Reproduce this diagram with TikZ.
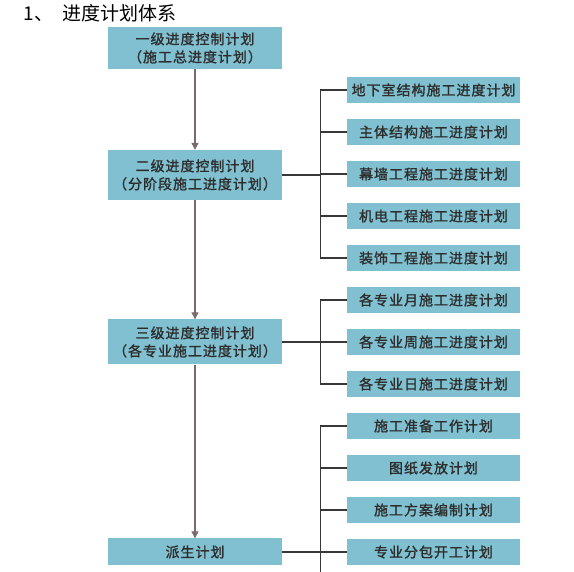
\documentclass[tikz,border=0pt]{standalone}
\usepackage{fontspec}
\newfontfamily\cjk{Noto Sans CJK SC}
\newfontfamily\cjkbox{Noto Sans CJK SC}[FakeBold=1.3, LetterSpace=7]
\usetikzlibrary{arrows.meta}
\definecolor{boxblue}{RGB}{128,192,208}
\definecolor{arrowgray}{RGB}{122,106,106}
\definecolor{linegray}{RGB}{55,55,55}
\definecolor{textgray}{RGB}{45,45,45}
\tikzset{
  planbox/.style={fill=boxblue, text=textgray, font=\cjkbox\fontsize{14}{18}\selectfont,
    inner sep=0pt, align=center, minimum width=174pt},
  subbox/.style={planbox, minimum width=173pt, minimum height=26pt},
  down/.style={draw=arrowgray, line width=1.2pt, -{Triangle[length=7pt,width=7pt]}},
  branch/.style={draw=linegray, line width=1.1pt}
}
\begin{document}
\begin{tikzpicture}[x=1pt,y=-1pt]
        \useasboundingbox (0,0) rectangle (574,572);
        \node[anchor=west, text=black, font=\cjk\fontsize{19}{22}\selectfont] (title) at (20,13) {1、\enspace 进度计划体系};
        % left column
        \node[planbox, minimum height=42pt] (lv1) at (195,48) {一级进度控制计划\\（施工总进度计划）};
        \node[planbox, minimum height=50pt] (lv2) at (195,175) {二级进度控制计划\\（分阶段施工进度计划）};
        \node[planbox, minimum height=45pt] (lv3) at (195,342) {三级进度控制计划\\（各专业施工进度计划）};
        \node[planbox, minimum height=27pt] (lv4) at (195,552) {派生计划};
        \draw[down] (lv1) -- (lv2);
        \draw[down] (lv2) -- (lv3);
        \draw[down] (lv3) -- (lv4);
        % second level plans
        \foreach \i/\y/\t in {1/90/地下室结构施工进度计划, 2/132/主体结构施工进度计划, 3/174/幕墙工程施工进度计划,
                              4/216/机电工程施工进度计划, 5/258/装饰工程施工进度计划}
            \node[subbox] (sa\i) at (433.5,\y) {\t};
        \draw[branch] (sa1.west) -- ++(-26,0) coordinate (ta) |- (sa5.west);
        \foreach \i in {2,3,4}
            \draw[branch] (sa\i.west) -- (sa\i.west -| ta);
        \draw[branch] (lv2.east) -- (lv2.east -| ta);
        % third level plans
        \foreach \i/\y/\t in {1/300/各专业月施工进度计划, 2/342/各专业周施工进度计划, 3/384/各专业日施工进度计划}
            \node[subbox] (sb\i) at (433.5,\y) {\t};
        \draw[branch] (sb1.west) -- ++(-26,0) coordinate (tb) |- (sb3.west);
        \draw[branch] (sb2.west) -- (sb2.west -| tb);
        \draw[branch] (lv3.east) -- (lv3.east -| tb);
        % derived plans
        \foreach \i/\y/\t in {1/426/施工准备工作计划, 2/468/图纸发放计划, 3/510/施工方案编制计划, 4/552/专业分包开工计划}
            \node[subbox] (sc\i) at (433.5,\y) {\t};
        \coordinate (cut) at (321,572);
        \draw[branch] (sc1.west) -- ++(-26,0) coordinate (tc) -- (tc |- cut);
        \foreach \i in {2,3,4}
            \draw[branch] (sc\i.west) -- (sc\i.west -| tc);
        \draw[branch] (lv4.east) -- (lv4.east -| tc);
    \end{tikzpicture}
\end{document}
